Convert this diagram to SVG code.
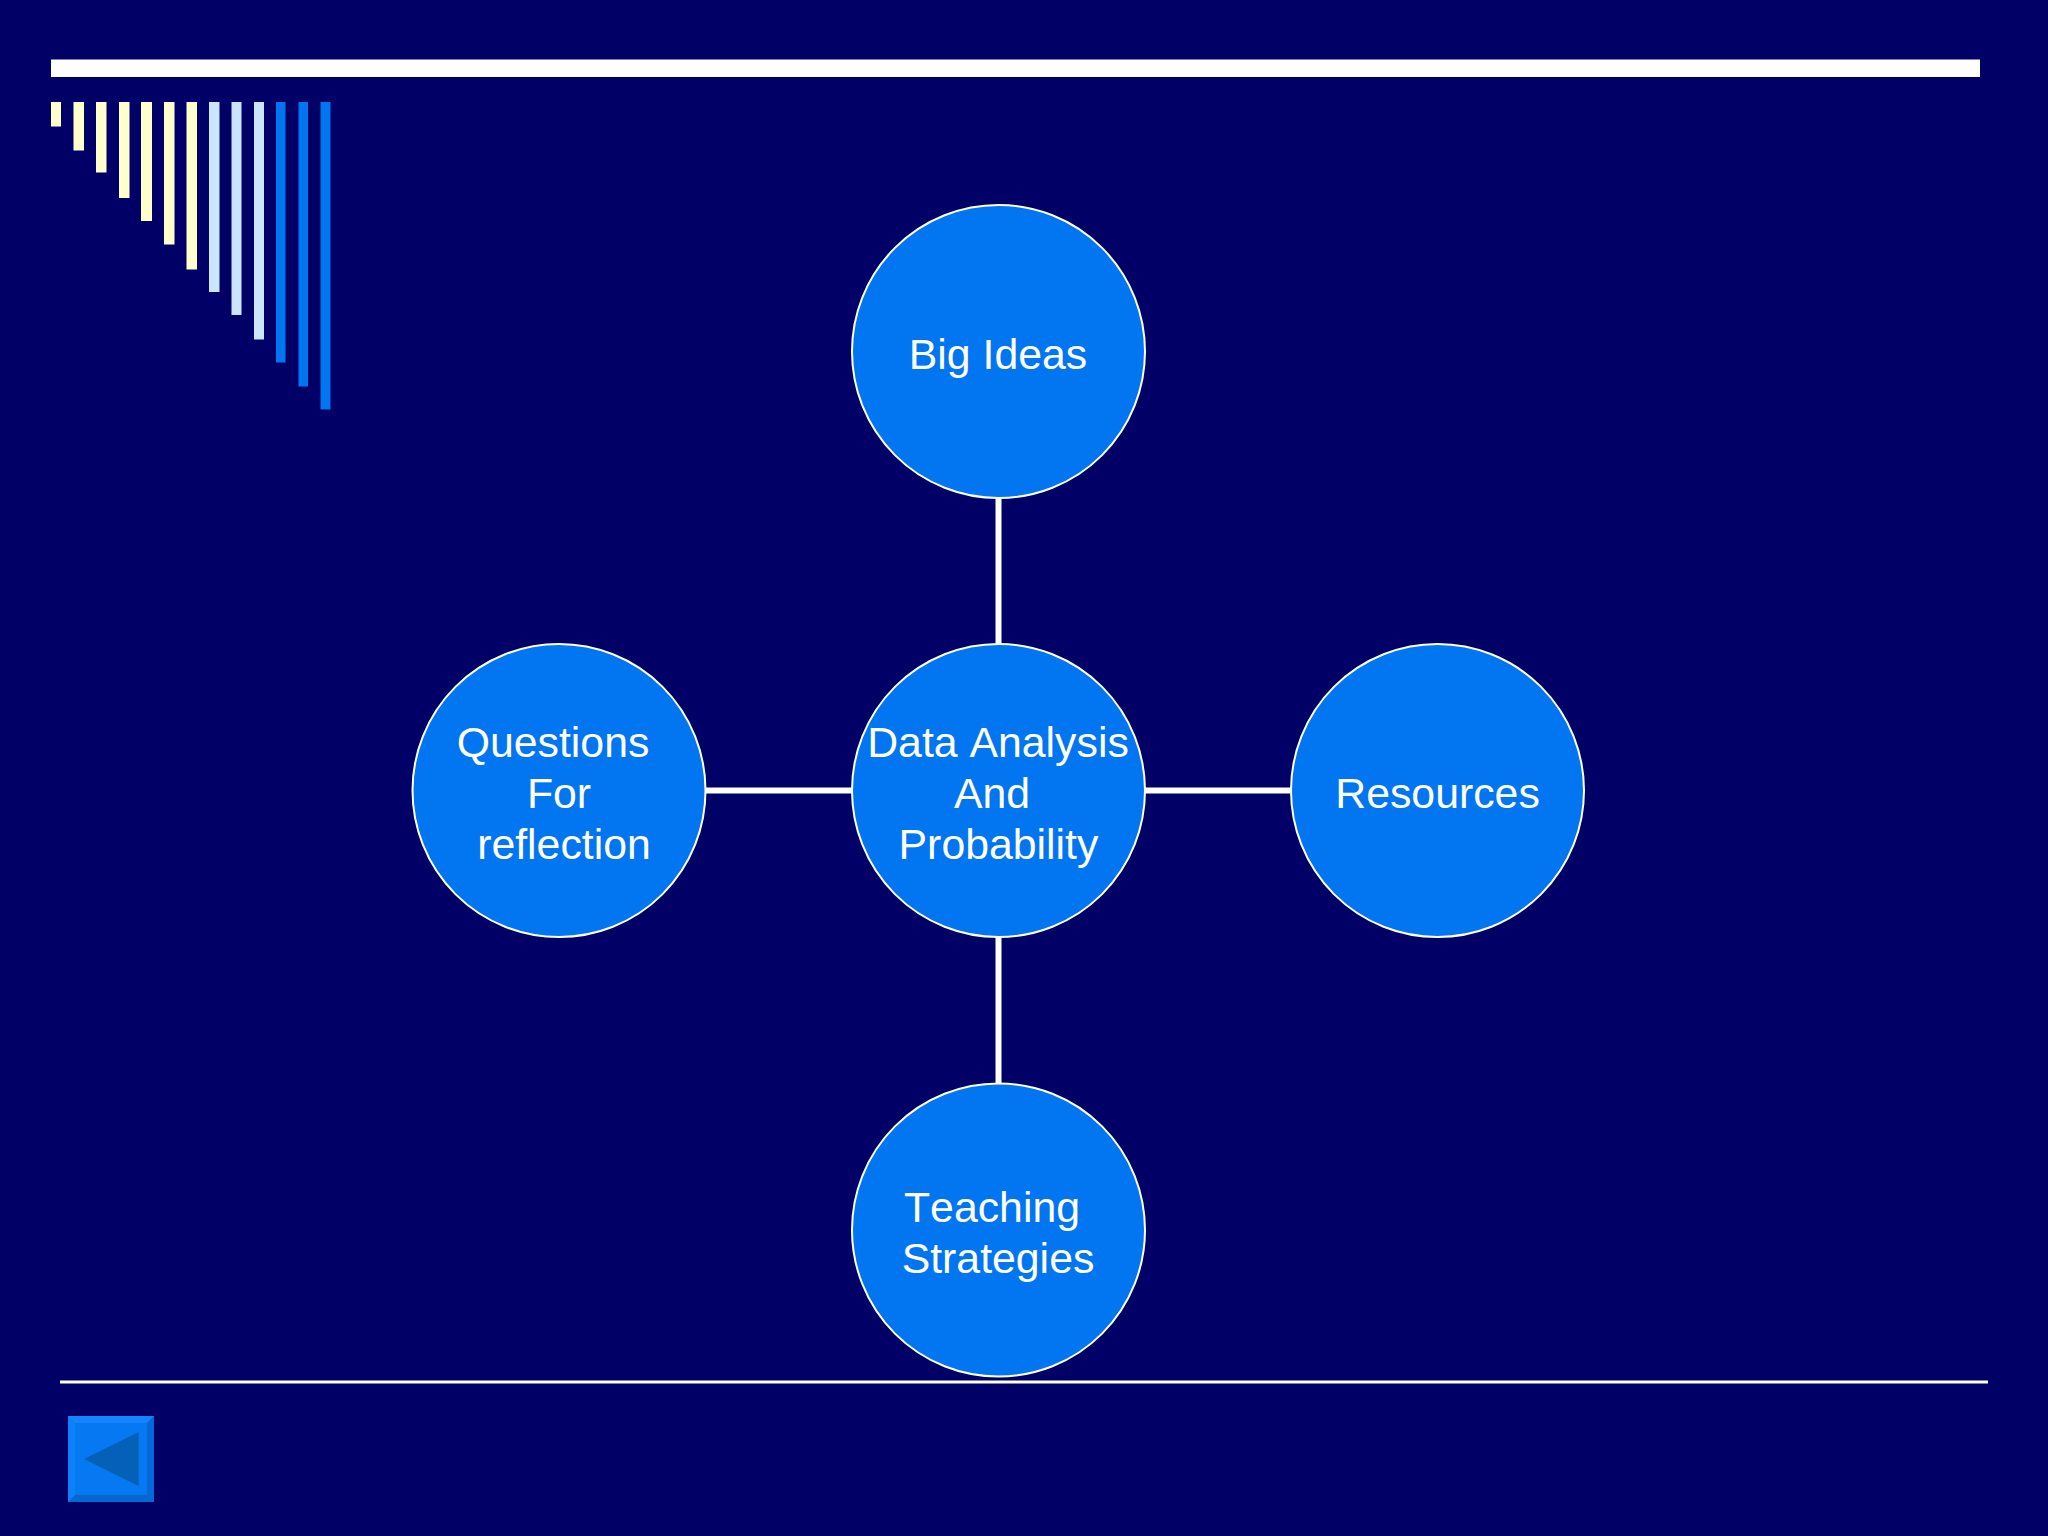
<svg xmlns="http://www.w3.org/2000/svg" width="2048" height="1536" viewBox="0 0 2048 1536">
<style>
.c{fill:#0275F0;stroke:#fff;stroke-width:2}
.t{font-family:"Liberation Sans",Arial,sans-serif;font-size:42.8px;fill:#fff;text-anchor:middle;font-kerning:none}
.y{fill:#FFFFCC}.l{fill:#CCE5FF}.b{fill:#0275F0}
.k{stroke:#fff;stroke-width:6;fill:none}
</style>
<rect width="2048" height="1536" fill="#000066"/>
<g id="decor">
<rect x="51" y="59.5" width="1929" height="17.5" fill="#fff"/>
<rect class="y" x="51" y="102" width="10" height="24.5"/>
<rect class="y" x="73.5" y="102" width="10.5" height="48.5"/>
<rect class="y" x="96" y="102" width="10.5" height="70.5"/>
<rect class="y" x="119" y="102" width="10.5" height="96"/>
<rect class="y" x="141" y="102" width="11" height="119"/>
<rect class="y" x="164" y="102" width="10.5" height="142.5"/>
<rect class="y" x="186.5" y="102" width="10.5" height="167.5"/>
<rect class="l" x="209" y="102" width="10.5" height="190"/>
<rect class="l" x="231.5" y="102" width="10" height="213"/>
<rect class="l" x="254" y="102" width="10" height="237.5"/>
<rect class="b" x="276" y="102" width="9.5" height="260.5"/>
<rect class="b" x="298.5" y="102" width="9.5" height="284.5"/>
<rect class="b" x="320.5" y="102" width="10" height="307.5"/>
<rect x="60" y="1380.5" width="1928" height="3" fill="#fff"/>
</g>
<g id="connectors">
<line class="k" x1="998.5" y1="498" x2="998.5" y2="644"/>
<line class="k" x1="998.5" y1="936" x2="998.5" y2="1084"/>
<line class="k" x1="705" y1="790.5" x2="852" y2="790.5"/>
<line class="k" x1="1145" y1="790.5" x2="1292" y2="790.5"/>
</g>
<g id="node-big-ideas"><circle class="c" cx="998.5" cy="351.5" r="146.5"/><text class="t" x="998" y="369">Big Ideas</text></g>
<g id="node-center"><circle class="c" cx="998.5" cy="790.5" r="146.5"/><text class="t"><tspan x="998" y="757">Data Analysis</tspan><tspan x="992" y="808">And</tspan><tspan x="998.5" y="859">Probability</tspan></text></g>
<g id="node-questions"><circle class="c" cx="559" cy="790.5" r="146.5"/><text class="t"><tspan x="553" y="757">Questions</tspan><tspan x="559" y="808">For</tspan><tspan x="564" y="859">reflection</tspan></text></g>
<g id="node-resources"><circle class="c" cx="1437.5" cy="790.5" r="146.5"/><text class="t" x="1437.5" y="808">Resources</text></g>
<g id="node-teaching"><circle class="c" cx="998.5" cy="1230" r="146.5"/><text class="t"><tspan x="992" y="1222">Teaching</tspan><tspan x="998" y="1273">Strategies</tspan></text></g>
<g id="back-button">
<rect x="68" y="1416" width="86" height="86" fill="#0678F2"/>
<polygon points="68,1416 154,1416 147,1423 75,1423" fill="#1484FF"/>
<polygon points="68,1416 75,1423 75,1495 68,1502" fill="#0E80FA"/>
<polygon points="154,1416 154,1502 147,1495 147,1423" fill="#0468D8"/>
<polygon points="68,1502 154,1502 147,1495 75,1495" fill="#0468D0"/>
<polygon points="84,1459 138.7,1432 138.7,1486" fill="#0560B8"/>
</g>
</svg>
